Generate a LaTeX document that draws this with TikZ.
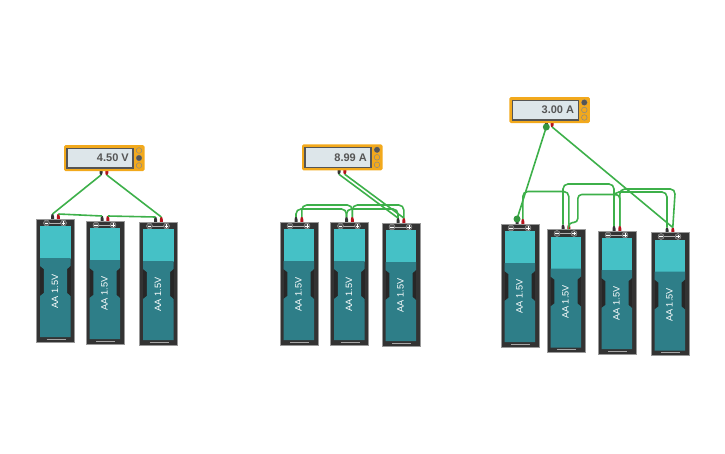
\documentclass[tikz,border=0pt]{standalone}
\usepackage{fontspec}
\setmainfont{Liberation Sans}
\definecolor{wiregreen}{HTML}{3DB04A}
\definecolor{cellframe}{HTML}{333333}
\definecolor{cellnotch}{HTML}{272727}
\definecolor{celltop}{HTML}{45C1C6}
\definecolor{cellbody}{HTML}{2E7E88}
\definecolor{meterbody}{HTML}{F2A91C}
\definecolor{meterscreen}{HTML}{DDE6EA}
\definecolor{meterdark}{HTML}{555555}
\definecolor{leadred}{HTML}{B5121B}
\tikzset{
    wire/.style={draw=wiregreen, line width=1.6pt, rounded corners=5pt},
    joint/.style={circle, fill=wiregreen!85!black, inner sep=0pt, minimum size=7pt},
    blacklead/.style={fill=black!80},
    redlead/.style={fill=leadred},
    dial/.style={draw=meterdark!70, fill=meterbody, line width=0.5pt},
    pics/cell/.style={code={
        \fill[blacklead] (14.5,1) -- (14.5,-2.5) -- (15.2,-5) -- (16.8,-5) -- (17.5,-2.5) -- (17.5,1) -- cycle;
        \fill[redlead] (20.3,1) -- (20.3,-2.5) -- (21,-5) -- (22.6,-5) -- (23.3,-2.5) -- (23.3,1) -- cycle;
        \coordinate (-neg) at (16,-5);
        \coordinate (-pos) at (21.8,-5);
        \filldraw[draw=black!40, fill=cellframe, line width=0.4pt] (0,0) rectangle (38,123);
        \fill[cellnotch] (3.5,44) rectangle (34,80);
        \fill[celltop] (3.5,7) rectangle (34,39.5);
        \fill[cellbody] (3.5,39) -- (34,39) -- (34,47) -- (30.6,50) -- (30.6,74) -- (34,77)
            -- (34,118) -- (3.5,118) -- (3.5,77) -- (7.3,74) -- (7.3,50) -- (3.5,47) -- cycle;
        \draw[black!35, line width=0.7pt] (10,120) -- (29,120);
        \draw[black!30, line width=1pt] (12,4) -- (25,4);
        \filldraw[draw=black!35, fill=black!65, line width=0.4pt] (10,4) circle (3);
        \filldraw[draw=black!35, fill=black!65, line width=0.4pt] (27,4) circle (3);
        \draw[white, line width=0.5pt] (8.4,4) -- (11.6,4);
        \draw[white, line width=0.5pt] (25.4,4) -- (28.6,4) (27,2.4) -- (27,5.6);
        \node (-label) at (18.5,72.5) [rotate=90, text=white, font=\fontsize{9.2}{9.2}\selectfont, inner sep=0pt] {AA 1.5V};
    }},
    pics/meter/.style 2 args={code={
        \fill[blacklead] (35.5,25) -- (35.5,28) -- (36.2,30) -- (37.8,30) -- (38.5,28) -- (38.5,25) -- cycle;
        \fill[redlead] (41.3,25) -- (41.3,28) -- (42,30) -- (43.6,30) -- (44.3,28) -- (44.3,25) -- cycle;
        \coordinate (-neg) at (37,30);
        \coordinate (-pos) at (42.8,30);
        \fill[meterbody, rounded corners=1.5pt] (0,0) rectangle (80.5,26);
        \filldraw[draw=meterdark, fill=meterscreen, line width=1.2pt] (3,3.5) rectangle (69,23);
        \node (-readout) at (65,13.2) [anchor=east, text=meterdark, font=\fontsize{11}{11}\selectfont\bfseries, inner sep=0pt] {#1};
        \filldraw[dial] (75,5.5) circle (2.8);
        \filldraw[dial] (75,13) circle (2.8);
        \filldraw[dial] (75,20.5) circle (2.8);
        \fill[meterdark] (75,#2) circle (2.8);
    }},
}

\begin{document}
\begin{tikzpicture}[x=1pt, y=-1pt]
    \useasboundingbox (0,0) rectangle (725,453);
    % series
    \pic (m1) at (64,145) {meter={4.50 V}{13}};
    \pic (b1) at (36.5,219) {cell};
    \pic (b2) at (86,221) {cell};
    \pic (b3) at (139.5,222) {cell};
    \draw[wire] (m1-neg) -- (b1-neg);
    \draw[wire] (m1-pos) -- (b3-pos);
    \draw[wire] (b1-pos) -- (b2-neg);
    \draw[wire] (b2-pos) -- (b3-neg);
    % parallel
    \pic (m2) at (302,144.3) {meter={8.99 A}{5.5}};
    \pic (b4) at (280,222) {cell};
    \pic (b5) at (330.5,222) {cell};
    \pic (b6) at (382,223) {cell};
    \draw[wire] (m2-neg) -- (b6-neg);
    \draw[wire] (m2-pos) -- (b6-pos);
    \draw[wire] (b4-pos) -- ++(0,-12) -| (b5-pos);
    \draw[wire] (b4-neg) -- ++(0,-8) -| (b5-neg);
    \draw[wire] (b5-pos) -- ++(0,-12) -| (b6-pos);
    \draw[wire] (b5-neg) -- ++(0,-8) -| (b6-neg);
    % four cells
    \pic (m3) at (509.3,97) {meter={3.00 A}{5.5}};
    \pic (b7) at (501,224) {cell};
    \pic (b8) at (547,229.5) {cell};
    \pic (b9) at (598,231) {cell};
    \pic (b10) at (651,232.5) {cell};
    \draw[wire] (m3-neg) -- (b7-neg);
    \draw[wire] (m3-pos) -- (b10-pos);
    \draw[wire] (b7-pos) -- ++(0,-27.5) -| (b8-pos);
    \draw[wire] (b8-neg) -- ++(0,-40.5) -| (b9-neg);
    \draw[wire, rounded corners=4pt] (b8-pos) -- ++(0,-2) -- ++(9,0) -- ++(0,-28) -| (b9-pos);
    \draw[wire] (b9-neg) -- ++(0,-34) -| (b10-neg);
    \draw[wire] (b9-pos) -- ++(0,-37) -- ++(55.5,0) -- (b10-pos);
    \node[joint] (j1) at (m3-neg) {};
    \node[joint] (j2) at (b7-neg) {};
\end{tikzpicture}
\end{document}
